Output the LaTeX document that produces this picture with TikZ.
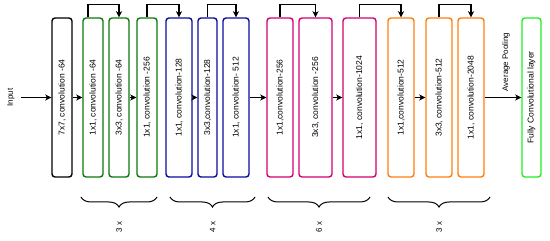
\documentclass[tikz,border=0pt]{standalone}
\usepackage{fontspec}
\setmainfont{Liberation Sans}
\usepackage{graphicx}
\usetikzlibrary{arrows.meta,decorations.pathreplacing,calc}
\definecolor{cblack}{HTML}{000000}
\definecolor{cgreen}{HTML}{0B7A0B}
\definecolor{cblue}{HTML}{0A0AA0}
\definecolor{cpink}{HTML}{D4006E}
\definecolor{corange}{HTML}{FF7F0E}
\definecolor{clime}{HTML}{22EE22}
\begin{document}
\begin{tikzpicture}[x=1pt,y=1pt,
  layer/.style={draw=#1, line width=1.4pt, rounded corners=3pt, minimum height=159pt, inner sep=0pt, font=\fontsize{8.5}{10}\selectfont},
  arr/.style={line width=1.1pt, -{Stealth[length=6pt,width=6pt,inset=1.5pt]}},
  lbl/.style={font=\fontsize{8}{9.5}\selectfont, inner sep=0pt},
  brc/.style={decorate, decoration={brace, mirror, amplitude=10pt}, line width=1pt}]
\useasboundingbox (0,0) rectangle (550,241);
\def\yc{143.5}
\node[layer=cblack, minimum width=20pt] (b1) at (62,\yc) {\rotatebox{90}{7x7, convolution -64}};
\node[layer=cgreen, minimum width=20pt] (g1) at (93,\yc) {\rotatebox{90}{1x1, convolution -64}};
\node[layer=cgreen, minimum width=20pt] (g2) at (119,\yc) {\rotatebox{90}{3x3, convolution -64}};
\node[layer=cgreen, minimum width=20pt] (g3) at (147,\yc) {\rotatebox{90}{1x1, convolution -256}};
\node[layer=cblue, minimum width=26pt] (u1) at (179,\yc) {\rotatebox{90}{1x1, convolution-128}};
\node[layer=cblue, minimum width=19pt] (u2) at (207.5,\yc) {\rotatebox{90}{3x3,convolution-128}};
\node[layer=cblue, minimum width=26pt] (u3) at (236,\yc) {\rotatebox{90}{1x1, convolution- 512}};
\node[layer=cpink, minimum width=26pt] (p1) at (280,\yc) {\rotatebox{90}{1x1,convolution-256}};
\node[layer=cpink, minimum width=33pt] (p2) at (315.5,\yc) {\rotatebox{90}{3x3, convolution -256}};
\node[layer=cpink, minimum width=33pt] (p3) at (359.5,\yc) {\rotatebox{90}{1x1, convolution-1024}};
\node[layer=corange, minimum width=26pt] (o1) at (401,\yc) {\rotatebox{90}{1x1,convolution-512}};
\node[layer=corange, minimum width=26pt] (o2) at (439,\yc) {\rotatebox{90}{3x3, convolution-512}};
\node[layer=corange, minimum width=26pt] (o3) at (471,\yc) {\rotatebox{90}{1x1, convolution-2048}};
\node[layer=clime, minimum width=19pt] (fc) at (531.5,\yc) {\rotatebox{90}{Fully Convolutional layer}};
% labels
\node[lbl, rotate=90] (inp) at (11,\yc) {Input};
\coordinate (inpend) at (21,\yc);
\node[lbl, rotate=90] (avg) at (506,179) {Average Pooling};
% forward arrows
\draw[arr] (inpend) -- (b1.west);
\draw[arr] (b1) -- (g1);
\draw[arr] (g2) -- (g3);
\draw[arr] (u1) -- (u2);
\draw[arr] (u3) -- (p1);
\draw[arr] (p2) -- (p3);
\draw[arr] (o1) -- (o2);
\draw[arr] (o3) -- (fc);
% skip connections
\draw[arr] ([xshift=-5pt]g1.north) -- ++(0,13) -| (g2.north);
\draw[arr] (g3.north) -- ++(0,13) -| (u1.north);
\draw[arr] (u2.north) -- ++(0,13) -| (u3.north);
\draw[arr] (p1.north) -- ++(0,13) -| (p2.north);
\draw[arr] (p3.north) -- ++(0,13) -| (o1.north);
\draw[arr] (o2.north) -- ++(0,13) -| (o3.north);
% braces
\coordinate (s1a) at (81,44); \coordinate (s1b) at (157,44);
\coordinate (s2a) at (170,44); \coordinate (s2b) at (255,44);
\coordinate (s3a) at (268,44); \coordinate (s3b) at (370,44);
\coordinate (s4a) at (388,44); \coordinate (s4b) at (490,44);
\draw[brc] (s1a) -- (s1b);
\draw[brc] (s2a) -- (s2b);
\draw[brc] (s3a) -- (s3b);
\draw[brc] (s4a) -- (s4b);
\node[lbl, rotate=90] (r1) at (119,14) {3 x};
\node[lbl, rotate=90] (r2) at (212.5,14) {4 x};
\node[lbl, rotate=90] (r3) at (319,14) {6 x};
\node[lbl, rotate=90] (r4) at (439,14) {3 x};
\end{tikzpicture}
\end{document}
